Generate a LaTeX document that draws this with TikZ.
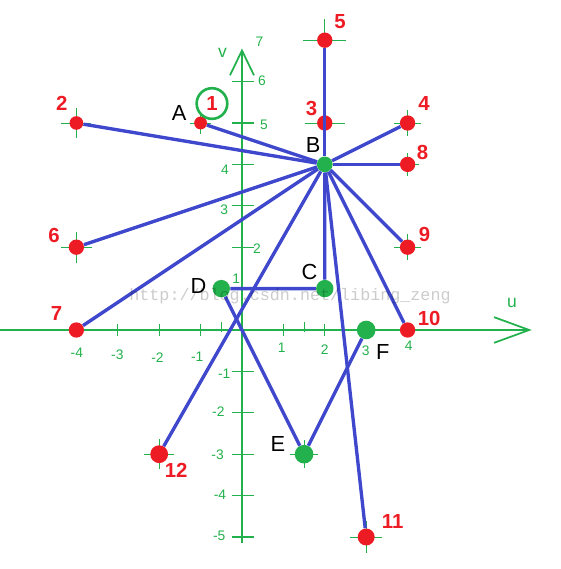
\documentclass[tikz,border=0pt]{standalone}
\usepackage{fontspec}
\setmainfont{Liberation Sans}
\newfontfamily\wmfont{Liberation Mono}
\usetikzlibrary{arrows.meta,backgrounds}
\definecolor{axisgreen}{RGB}{34,177,76}
\definecolor{ptred}{RGB}{237,28,36}
\definecolor{edgeblue}{RGB}{63,72,204}

\tikzset{
  reddot/.style={circle, fill=ptred, inner sep=0pt, minimum size=#1},
  reddot/.default=0.37cm,
  greendot/.style={circle, fill=axisgreen, inner sep=0pt, minimum size=#1},
  greendot/.default=0.42cm,
  edge/.style={edgeblue, line width=2.3pt},
  crossmark/.style={axisgreen, line width=0.6pt},
  tickmark/.style={axisgreen, line width=0.7pt},
  ticklabel/.style={axisgreen, font=\fontsize{9.5}{10}\selectfont, inner sep=0pt},
  numlabel/.style={ptred, font=\fontsize{14}{14}\selectfont\bfseries, inner sep=0pt},
  letterlabel/.style={black, font=\fontsize{15}{15}\selectfont, inner sep=0pt},
}

\begin{document}
\begin{tikzpicture}
  \useasboundingbox (-5.845,-5.773) rectangle (7.705,7.971);

  % Axes
  \draw[axisgreen, line width=1.2pt, -{Straight Barb[length=0.85cm, width=0.62cm]}] (-5.845,0) -- (7.0,0);
  \draw[axisgreen, line width=1.2pt, -{Straight Barb[length=0.6cm, width=0.58cm]}] (0,-5.14) -- (0,6.8);
  \node[ticklabel, font=\fontsize{12}{12}\selectfont] (ulabel) at (6.52,0.66) {u};
  \node[ticklabel, font=\fontsize{12}{12}\selectfont] (vlabel) at (-0.47,6.70) {v};

  % Ticks
  \foreach \x in {-4,-3,-2,-1,1,2,3,4}
    \draw[tickmark] (\x,-0.14) -- (\x,0.14);
  \foreach \x in {-0.5,1.5}
    \draw[tickmark] (\x,-0.05) -- (\x,0.2);
  \foreach \y in {-5,-4,-3,-2,-1,1,2,3,4,5,6}
    \draw[tickmark] (-0.25,\y) -- (0.3,\y);

  % Tick labels
  \foreach \x/\yy/\t in {-3.99/-0.56/-4, -3.01/-0.60/-3, -2.04/-0.68/-2, -1.08/-0.64/-1,
                         0.96/-0.44/1, 2.0/-0.47/2, 2.99/-0.51/3, 4.03/-0.39/4}
    \node[ticklabel] at (\x,\yy) {\t};
  \foreach \xx/\y/\t in {0.42/6.96/7, 0.48/6.02/6, 0.53/4.95/5, -0.41/3.88/4, -0.43/2.90/3,
                         0.36/1.97/2, -0.14/1.23/1, -0.43/-1.05/-1, -0.57/-1.97/-2,
                         -0.59/-3.02/-3, -0.53/-3.99/-4, -0.55/-4.98/-5}
    \node[ticklabel] at (\xx,\y) {\t};

  % Points
  \node[reddot=0.31cm] (pA) at (-1,5) {};
  \node[reddot=0.33cm] (p2) at (-4,5) {};
  \node[reddot] (p3) at (2,5) {};
  \node[reddot] (p4) at (4,5) {};
  \node[reddot] (p5) at (2,7) {};
  \node[reddot] (p6) at (-4,2) {};
  \node[reddot] (p7) at (-4,0) {};
  \node[reddot] (p8) at (4,4) {};
  \node[reddot] (p9) at (4,2) {};
  \node[reddot] (p10) at (4,0) {};
  \node[reddot=0.41cm] (p11) at (3,-5) {};
  \node[reddot=0.43cm] (p12) at (-2,-3) {};
  \node[greendot=0.38cm] (B) at (2,4) {};
  \node[greendot] (C) at (2,1) {};
  \node[greendot] (D) at (-0.5,1) {};
  \node[greendot=0.45cm] (E) at (1.5,-3) {};
  \node[greendot=0.45cm] (F) at (3,0) {};

  % Crosses under the points
  \begin{scope}[on background layer]
    \foreach \p/\s in {pA/0.26, p2/0.36, p3/0.48, p4/0.32, p5/0.52, p6/0.37, p8/0.28,
                       p9/0.32, p11/0.38, p12/0.36, E/0.34}
    {
      \draw[crossmark] ([xshift=-\s cm]\p.center) -- ([xshift=\s cm]\p.center);
      \draw[crossmark] ([yshift=-\s cm]\p.center) -- ([yshift=\s cm]\p.center);
    }
  \end{scope}

  % Connectors
  \foreach \p in {pA,p2,p4,p5,p6,p7,p8,p9,p10,p11,p12}
    \draw[edge] (B) -- (\p);
  \draw[edge] (B) -- (C) -- (D) -- (E) -- (F);

  % Labels
  \node[numlabel, circle, draw=axisgreen, line width=1.8pt, minimum size=0.74cm] (n1) at (-0.725,5.47) {1};
  \node[numlabel] (n2) at (-4.35,5.48) {2};
  \node[numlabel] (n3) at (1.68,5.36) {3};
  \node[numlabel] (n4) at (4.40,5.46) {4};
  \node[numlabel] (n5) at (2.37,7.46) {5};
  \node[numlabel] (n6) at (-4.54,2.29) {6};
  \node[numlabel] (n7) at (-4.48,0.40) {7};
  \node[numlabel] (n8) at (4.36,4.28) {8};
  \node[numlabel] (n9) at (4.41,2.31) {9};
  \node[numlabel] (n10) at (4.52,0.27) {10};
  \node[numlabel] (n11) at (3.64,-4.63) {11};
  \node[numlabel] (n12) at (-1.59,-3.40) {12};
  \node[letterlabel] (lA) at (-1.52,5.24) {A};
  \node[letterlabel] (lB) at (1.72,4.47) {B};
  \node[letterlabel] (lC) at (1.63,1.40) {C};
  \node[letterlabel] (lD) at (-1.05,1.06) {D};
  \node[letterlabel] (lE) at (0.87,-2.75) {E};
  \node[letterlabel] (lF) at (3.40,-0.53) {F};

  % Watermark
  \node[text=black, text opacity=0.2, font=\wmfont\fontsize{11.5}{12}\selectfont] (wm)
    at (1.16,0.82) {http://blog.csdn.net/libing\_zeng};
\end{tikzpicture}
\end{document}
